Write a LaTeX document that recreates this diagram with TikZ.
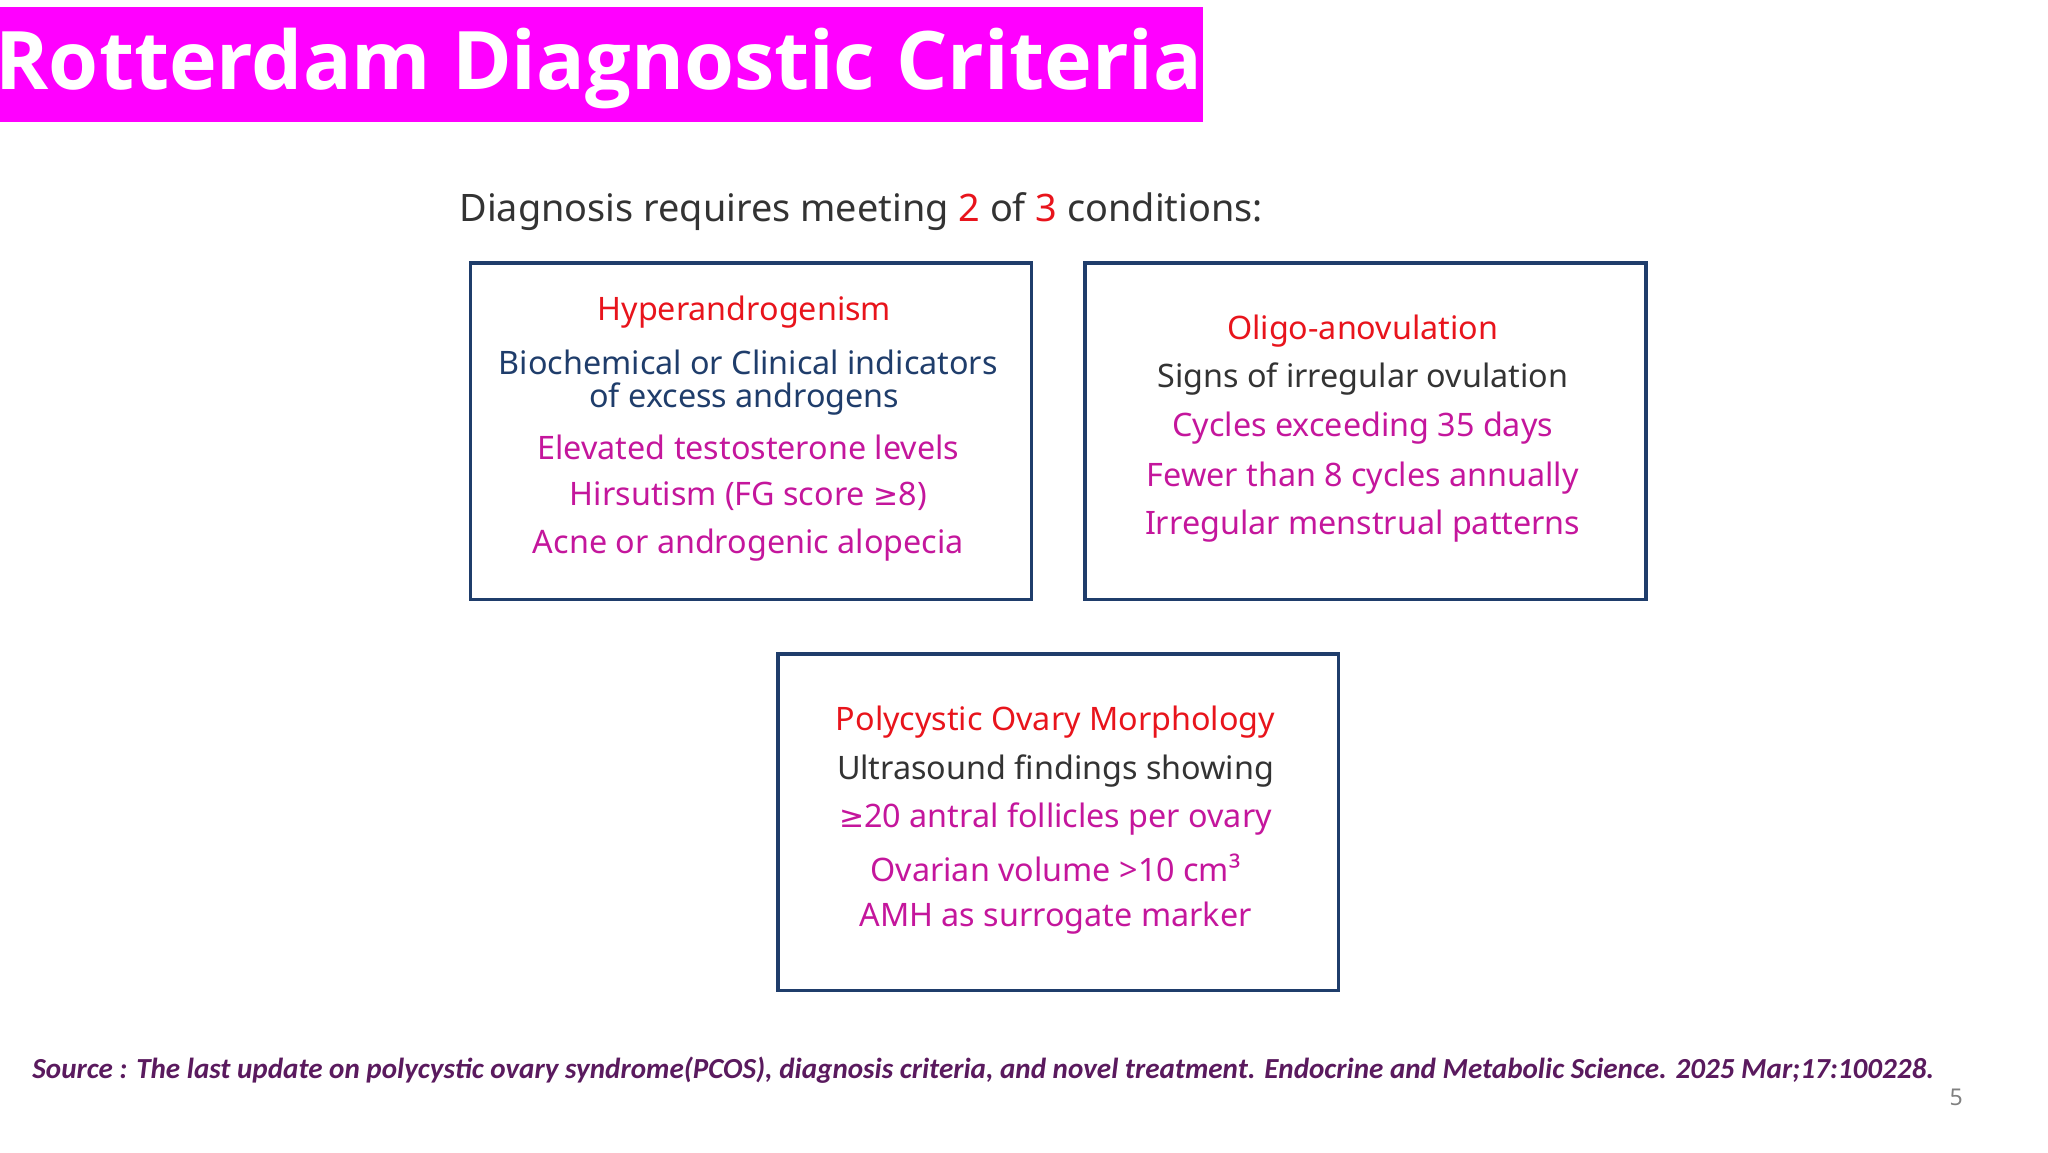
\documentclass[tikz,border=0pt]{standalone}
\usepackage{fontspec}
\setmainfont{Noto Sans}
\newfontfamily\titlefont{Open Sans}
\newfontfamily\srcfont{Carlito}
\newfontfamily\symfont{DejaVu Sans}
\definecolor{mag}{HTML}{FF00FF}
\definecolor{frame}{HTML}{1F3D6B}
\definecolor{hred}{HTML}{E8141C}
\definecolor{pink}{HTML}{C4169C}
\definecolor{dblue}{HTML}{1F3D6B}
\definecolor{dgray}{HTML}{333333}
\definecolor{src}{HTML}{5A1A5E}
\tikzset{x=0.01cm,y=-0.01cm,
 card/.style={draw=frame,line width=0.8pt,inner sep=0pt,minimum width=4.27cm,minimum height=2.56cm,anchor=north west},
 txt/.style={font=\fontsize{7}{8}\selectfont,inner sep=0pt,anchor=center},
}
\begin{document}
\begin{tikzpicture}
\useasboundingbox (0,0) rectangle (1560,877.5);
\fill[mag] (0,5) rectangle (916,93);
\node[anchor=west,text=white,font=\titlefont\fontsize{17.5}{20}\bfseries\selectfont,inner sep=0pt] (title) at (-4,52) {Rotterdam Diagnostic Criteria};
\node[font=\fontsize{8.2}{10}\selectfont,text=dgray,inner sep=0pt] (sub) at (656,161) {Diagnosis requires meeting \textcolor{hred}{2} of \textcolor{hred}{3} conditions:};
\node[card] (b1) at (357,199) {};
\node[card] (b2) at (825,199) {};
\node[card] (b3) at (591,497) {};
\node[txt,text=hred] (a1) at (567,238) {Hyperandrogenism};
\node[txt,text=dblue] (a2) at (570,276) {Biochemical or Clinical indicators};
\node[txt,text=dblue] (a3) at (567,304) {of excess androgens};
\node[txt,text=pink] (a4) at (570,341) {Elevated testosterone levels};
\node[txt,text=pink] (a5) at (570,378) {Hirsutism (FG score {\symfont\fontsize{6.5}{8}\selectfont ≥}8)};
\node[txt,text=pink] (a6) at (570,415) {Acne or androgenic alopecia};
\node[txt,text=hred] (c1) at (1038,252) {Oligo-anovulation};
\node[txt,text=dgray] (c2) at (1038,289) {Signs of irregular ovulation};
\node[txt,text=pink] (c3) at (1038,326) {Cycles exceeding 35 days};
\node[txt,text=pink] (c4) at (1038,364) {Fewer than 8 cycles annually};
\node[txt,text=pink] (c5) at (1038,401) {Irregular menstrual patterns};
\node[txt,text=hred] (d1) at (804,550) {Polycystic Ovary Morphology};
\node[txt,text=dgray] (d2) at (804,587) {Ultrasound findings showing};
\node[txt,text=pink] (d3) at (804,624) {{\symfont\fontsize{6.5}{8}\selectfont ≥}20 antral follicles per ovary};
\node[txt,text=pink] (d4) at (804,661) {Ovarian volume >10 cm³};
\node[txt,text=pink] (d5) at (804,699) {AMH as surrogate marker};
\node[anchor=west,inner sep=0pt,text=src,font=\srcfont\fontsize{6.3}{7}\bfseries\itshape\selectfont] (s) at (24,815) {Source : The last update on polycystic ovary syndrome(PCOS), diagnosis criteria, and novel treatment. Endocrine and Metabolic Science. 2025 Mar;17:100228.};
\node[inner sep=0pt,text=gray,font=\fontsize{5}{6}\selectfont] (pg) at (1490,836) {5};
\end{tikzpicture}
\end{document}
